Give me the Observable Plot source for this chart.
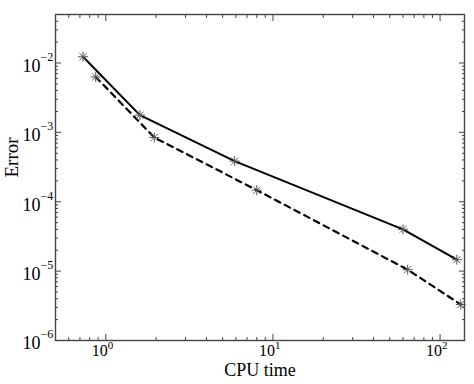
<!DOCTYPE html>
<html>
<head>
<meta charset="utf-8">
<script src="https://cdn.jsdelivr.net/npm/d3@7"></script>
<script src="https://cdn.jsdelivr.net/npm/@observablehq/plot@0.6"></script>
<style>
  html, body { margin: 0; padding: 0; background: #fff; }
</style>
</head>
<body>
<div id="chart"></div>
<script>
// Data
const cpuSolid = [0.73, 1.6, 5.9, 60, 126];
const errSolid = [1.23e-2, 1.77e-3, 3.85e-4, 4.0e-5, 1.46e-5];
const cpuDashed = [0.87, 1.95, 8.0, 64, 133];
const errDashed = [6.3e-3, 8.45e-4, 1.47e-4, 1.05e-5, 3.3e-6];

const xTickExps = [0, 1, 2];
const yTickExps = [-6, -5, -4, -3, -2];
const xLabel = "CPU time";
const yLabel = "Error";

const xDomain = [0.5, 140];
const yDomain = [1e-6, 0.05];

const solid = cpuSolid.map((x, i) => ({x, y: errSolid[i]}));
const dashed = cpuDashed.map((x, i) => ({x, y: errDashed[i]}));

function minorTicks(domain) {
  const out = [];
  const lo = Math.floor(Math.log10(domain[0])), hi = Math.ceil(Math.log10(domain[1]));
  for (let e = lo; e <= hi; e++) {
    for (let m = 2; m <= 9; m++) {
      const v = m * Math.pow(10, e);
      if (v >= domain[0] && v <= domain[1]) out.push(v);
    }
  }
  return out;
}
const xMajor = xTickExps.map(e => Math.pow(10, e));
const yMajor = yTickExps.map(e => Math.pow(10, e));
const xMinor = minorTicks(xDomain);
const yMinor = minorTicks(yDomain);

const asterisk = {
  draw(context, size) {
    const r = Math.sqrt(size / Math.PI);
    const d = r * Math.SQRT1_2;
    context.moveTo(-r, 0); context.lineTo(r, 0);
    context.moveTo(0, -r); context.lineTo(0, r);
    context.moveTo(-d, -d); context.lineTo(d, d);
    context.moveTo(-d, d); context.lineTo(d, -d);
  }
};

const tickColor = "#444";
const blank = () => "";
const fmtExp = e => (e < 0 ? "\u2212" + Math.abs(e) : String(e));
const ax = (fn, opts) => fn({...opts, tickFormat: blank, label: null, stroke: tickColor});

const chart = Plot.plot({
  width: 474,
  height: 384,
  marginLeft: 55,
  marginRight: 10,
  marginTop: 14,
  marginBottom: 44,
  style: {fontFamily: "'Liberation Serif', 'DejaVu Serif', serif", background: "#fff", color: "#000"},
  x: {type: "log", domain: xDomain, axis: null},
  y: {type: "log", domain: yDomain, axis: null},
  marks: [
    // inward ticks on all four sides
    ax(Plot.axisX, {ticks: xMajor, anchor: "bottom", tickSize: -6}),
    ax(Plot.axisX, {ticks: xMinor, anchor: "bottom", tickSize: -3}),
    ax(Plot.axisX, {ticks: xMajor, anchor: "top", tickSize: -6}),
    ax(Plot.axisX, {ticks: xMinor, anchor: "top", tickSize: -3}),
    ax(Plot.axisY, {ticks: yMajor, anchor: "left", tickSize: -6}),
    ax(Plot.axisY, {ticks: yMinor, anchor: "left", tickSize: -3}),
    ax(Plot.axisY, {ticks: yMajor, anchor: "right", tickSize: -6}),
    ax(Plot.axisY, {ticks: yMinor, anchor: "right", tickSize: -3}),
    Plot.frame({stroke: tickColor, strokeWidth: 1.4}),

    // y tick labels: 10 with superscript exponent
    Plot.text(yTickExps, {y: e => Math.pow(10, e), frameAnchor: "left", text: () => "10",
      textAnchor: "end", dx: -15, dy: 3, fontSize: 18, fill: "#000"}),
    Plot.text(yTickExps, {y: e => Math.pow(10, e), frameAnchor: "left", text: fmtExp,
      textAnchor: "start", dx: -15, dy: -6, fontSize: 12, fill: "#000"}),

    // x tick labels
    Plot.text(xTickExps, {x: e => Math.pow(10, e), frameAnchor: "bottom", text: () => "10",
      textAnchor: "end", dx: 2, dy: 15, fontSize: 16, fill: "#000"}),
    Plot.text(xTickExps, {x: e => Math.pow(10, e), frameAnchor: "bottom", text: fmtExp,
      textAnchor: "start", dx: 2, dy: 8, fontSize: 11, fill: "#000"}),

    // axis labels
    Plot.text([xLabel], {frameAnchor: "bottom", text: d => d, dy: 35.5, fontSize: 18, fill: "#000"}),
    Plot.text([yLabel], {frameAnchor: "left", text: d => d, dx: -44, rotate: -90, fontSize: 19, fill: "#000"}),

    // series
    Plot.line(solid, {x: "x", y: "y", stroke: "#000", strokeWidth: 2}),
    Plot.line(dashed, {x: "x", y: "y", stroke: "#000", strokeWidth: 2.2, strokeDasharray: "6,5"}),
    Plot.dot(solid, {x: "x", y: "y", symbol: asterisk, r: 5, stroke: "#555", strokeWidth: 1}),
    Plot.dot(dashed, {x: "x", y: "y", symbol: asterisk, r: 5, stroke: "#555", strokeWidth: 1})
  ]
});
document.getElementById("chart").appendChild(chart);
</script>
</body>
</html>
